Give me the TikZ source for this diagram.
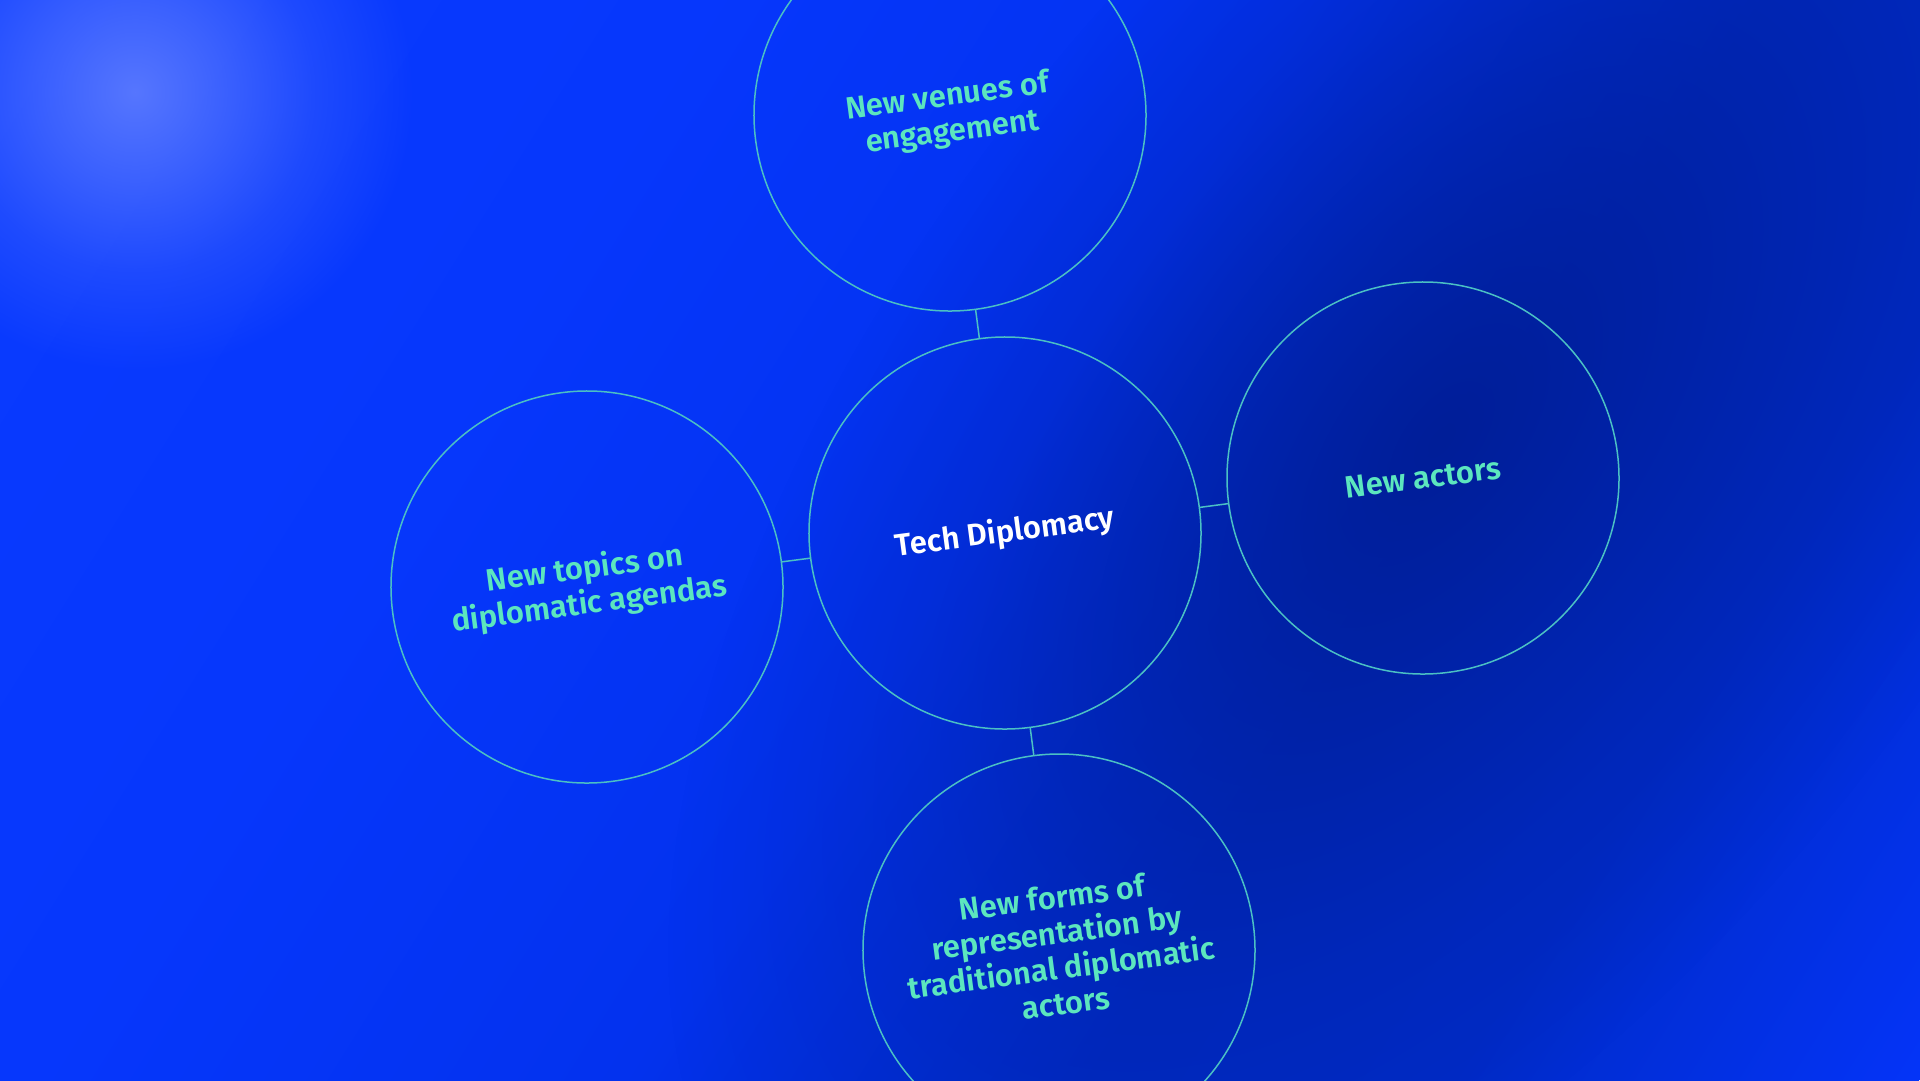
\documentclass[tikz,border=0pt]{standalone}
\usepackage{fontspec}
\setmainfont{Fira Sans}
\newfontfamily\labelfont{Fira Sans SemiBold}
\usetikzlibrary{fadings}
\pgfdeclareradialshading{softfade}{\pgfpointorigin}{color(0bp)=(white); color(8bp)=(black!35); color(16bp)=(black!72); color(25bp)=(black); color(50bp)=(black)}
\tikzfading[name=myglow, shade, shading=softfade]
\definecolor{cA}{HTML}{0A3BFF}
\definecolor{cB}{HTML}{0637FC}
\definecolor{cC}{HTML}{0332EE}
\definecolor{cD}{HTML}{002BC6}
\definecolor{cE}{HTML}{002BC8}
\definecolor{cG}{HTML}{0434F8}
\definecolor{darkc}{HTML}{001E98}
\definecolor{glowc}{HTML}{5676FF}
\definecolor{ringc}{HTML}{4BC0C4}
\definecolor{mintc}{HTML}{5CE6BE}
\pgfdeclarehorizontalshading{bgband}{100bp}{color(0bp)=(cA); color(25bp)=(cA); color(38.6bp)=(cB); color(50bp)=(cC); color(59bp)=(cD); color(66bp)=(cE); color(75bp)=(cG); color(100bp)=(cG)}
\begin{document}
\begin{tikzpicture}[x=1pt,y=-1pt,
  bubble/.style={circle, draw=ringc, line width=1.5pt, minimum size=392pt, inner sep=0pt,
    rotate=7.5, align=center, text=mintc, font=\labelfont\fontsize{31}{35.5}\selectfont},
  conn/.style={draw=ringc, line width=1.5pt}]
\useasboundingbox (0,0) rectangle (1920,1080);
\fill[cA] (0,0) rectangle (1920,1080);
\begin{scope}
  \clip (0,0) rectangle (1920,1080);
  \begin{scope}[transform canvas={rotate=-32}]
    \shade[shading=bgband] (0,-1200) rectangle (2200,1200);
  \end{scope}
  \begin{scope}[transform canvas={shift={(1440,440)}, rotate=52}]
    \fill[darkc, path fading=myglow] (0,0) ellipse [x radius=1050, y radius=540];
  \end{scope}
  \fill[glowc, path fading=myglow] (135,92) circle (280);
\end{scope}
\node[bubble] (top) at (950,115) {New venues of\\engagement};
\node[bubble, text=white] (ctr) at (1005,533) {Tech Diplomacy};
\node[bubble] (rgt) at (1423,478) {New actors};
\node[bubble] (lft) at (587,587) {New topics on\\diplomatic agendas};
\node[bubble] (bot) at (1059,950) {New forms of\\representation by\\traditional diplomatic\\actors};
\draw[conn] (top) -- (ctr);
\draw[conn] (lft) -- (ctr);
\draw[conn] (ctr) -- (rgt);
\draw[conn] (ctr) -- (bot);
\end{tikzpicture}
\end{document}
